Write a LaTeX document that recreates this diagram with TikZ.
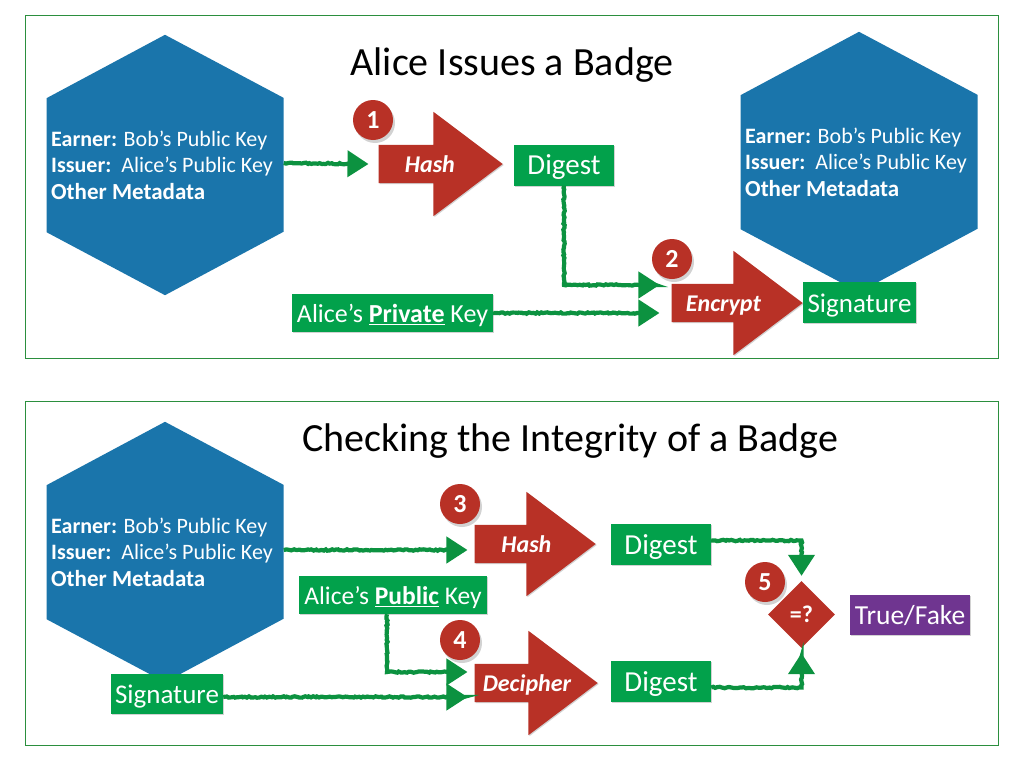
\documentclass[tikz,border=0pt]{standalone}
\usepackage{fontspec}
\setmainfont{Carlito}
\usetikzlibrary{arrows.meta, shapes.geometric, shapes.arrows, positioning, shadows, decorations.pathmorphing}
\definecolor{badgeblue}{HTML}{1A75AB}
\definecolor{stepred}{HTML}{B83126}
\definecolor{boxgreen}{HTML}{02A14B}
\definecolor{flowgreen}{HTML}{0C9240}
\definecolor{fakepurple}{HTML}{6F3590}
\definecolor{panelgreen}{HTML}{2B8F3E}
% blue hexagon with its three lines of text
\newcommand{\badgehex}[4]{
    \node[hexbody] (#1) at (#2,#3) {};
    \fill[badgeblue] (#1.north) -- ++(118.5,63) -- ++(0,134) -- (#1.south) -- ++(-118.5,-63) -- ++(0,-134) -- cycle;
    \node[hextext, anchor=west] (#4) at (#2-114,#3) {\textbf{Earner:} Bob’s Public Key\\\textbf{Issuer:}\ \ Alice’s Public Key\\{\fontsize{23}{27}\selectfont\textbf{Other Metadata}}};
}
\begin{document}
\begin{tikzpicture}[x=1pt, y=-1pt,
    panel/.style={draw=panelgreen, line width=0.9pt, fill=white},
    title/.style={font=\fontsize{40}{42}\selectfont, text=black, inner sep=0pt},
    hexbody/.style={minimum width=237pt, minimum height=260pt, inner sep=0pt},
    hextext/.style={text=white, align=left, inner sep=0pt, font=\fontsize{22}{26.5}\selectfont},
    blockarrow/.style={single arrow, fill=stepred, text=white, inner sep=0pt, minimum width=104pt, single arrow head extend=33pt, single arrow tip angle=74, anchor=tip, text height=27pt, text depth=11pt, font=\fontsize{24}{25}\selectfont\bfseries\itshape, drop shadow={shadow xshift=1pt, shadow yshift=-1pt, opacity=.35}},
    greenbox/.style={fill=boxgreen, text=white, inner sep=0pt, text height=22pt, text depth=3pt, font=\fontsize{27}{30}\selectfont, drop shadow={shadow xshift=1pt, shadow yshift=-1pt, opacity=.35}},
    numcircle/.style={circle, fill=stepred, text=white, inner sep=0pt, minimum size=40pt, font=\fontsize{26}{26}\selectfont\bfseries, drop shadow={shadow xshift=2pt, shadow yshift=-3pt, opacity=.35}},
    flow/.style={draw=flowgreen, line width=4.2pt, decorate, decoration={random steps, segment length=2pt, amplitude=.7pt, post length=4pt}, -{Triangle[length=21pt, width=26pt, fill=flowgreen]}}]
    \useasboundingbox (0,0) rectangle (1024,768);

    \draw[panel] (25,15) rectangle (998,358);
    \draw[panel] (25,401) rectangle (998,745);
    \node[title] (T1) at (512,65) {Alice Issues a Badge};
    \node[title] (T2) at (570,441) {Checking the Integrity of a Badge};

    \badgehex{H1}{165}{165}{M1}
    \badgehex{H2}{859}{162}{M2}
    \badgehex{H3}{165}{552}{M3}

    \node[blockarrow, minimum height=124pt] (A1) at (503,164) {Hash\hspace*{-4pt}};
    \node[blockarrow, minimum height=131pt] (A2) at (803,303) {Encrypt\hspace*{2pt}};
    \node[blockarrow, minimum height=121pt] (A3) at (596,544) {Hash\hspace*{-8pt}};
    \node[blockarrow, minimum height=123pt] (A4) at (598,683) {Decipher\hspace*{-7pt}};

    \node[greenbox, font=\fontsize{29}{30}\selectfont, minimum width=100pt, minimum height=41pt] (D1) at (564,165) {Digest};
    \node[greenbox, font=\fontsize{26}{30}\selectfont, minimum width=201pt, minimum height=38pt] (K1) at (392.5,313) {Alice’s \underline{\smash{\textbf{Private}}} Key};
    \node[greenbox, minimum width=113pt, minimum height=41pt] (S1) at (859.5,302.5) {Signature};
    \node[greenbox, font=\fontsize{29}{30}\selectfont, minimum width=100pt, minimum height=41pt] (D2) at (661,544.5) {Digest};
    \node[greenbox, font=\fontsize{29}{30}\selectfont, minimum width=100pt, minimum height=41pt] (D3) at (661,681.5) {Digest};
    \node[greenbox, font=\fontsize{25.5}{30}\selectfont, minimum width=188pt, minimum height=38pt] (K2) at (393,595) {Alice’s \underline{\smash{\textbf{Public}}} Key};
    \node[greenbox, minimum width=112pt, minimum height=40pt] (S2) at (167,694) {Signature};
    \node[greenbox, fill=fakepurple, font=\fontsize{27.5}{30}\selectfont, minimum width=120pt, minimum height=40pt] (R) at (910,615) {True/Fake};
    \node[diamond, aspect=1, fill=stepred, text=white, inner sep=0pt, minimum size=67pt, font=\fontsize{24}{25}\selectfont\bfseries] (Q) at (801.5,614.5) {=?};

    \node[numcircle] (N1) at (373,120) {1};
    \node[numcircle] (N2) at (672,259) {2};
    \node[numcircle] (N3) at (460,504) {3};
    \node[numcircle] (N4) at (460,640) {4};
    \node[numcircle] (N5) at (765,582) {5};

    \draw[flow] ([yshift=2pt]H1.east) -- ([xshift=-10pt]A1.tail);
    \draw[flow] (D1.south) |- ([xshift=-12pt,yshift=18pt]A2.tail);
    \draw[flow] (K1.east) -- ([xshift=-12pt]A2.tail |- K1.east);
    \draw[flow] ([yshift=2pt]H3.east) -- ([xshift=-7pt,yshift=-6pt]A3.tail);
    \draw[flow] ([xshift=-6pt]K2.south) |- ([xshift=-7pt,yshift=11pt]A4.tail);
    \draw[flow] ([yshift=-3pt]S2.east) -- ([xshift=-7pt,yshift=-14pt]A4.tail);
    \draw[flow] ([yshift=4pt]D2.east) -| ([yshift=5pt]Q.north);
    \draw[flow] ([yshift=-6pt]D3.east) -| ([yshift=-5pt]Q.south);
\end{tikzpicture}
\end{document}
